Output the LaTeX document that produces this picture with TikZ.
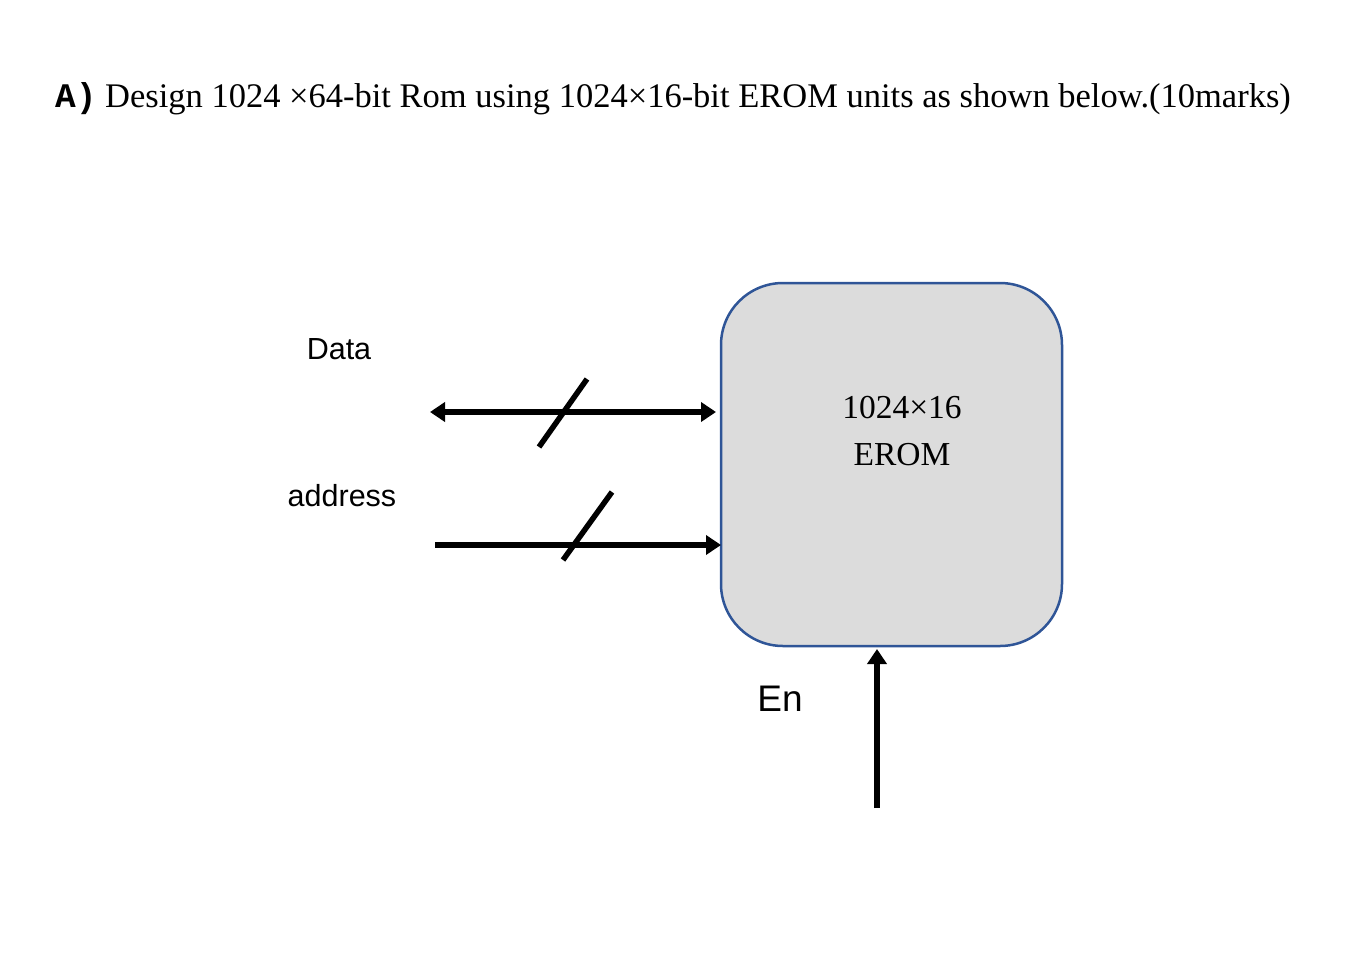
\documentclass[tikz,border=0pt]{standalone}
\usepackage{fontspec}
\setmainfont{Liberation Serif}
\newfontfamily\sansf{Liberation Sans}
\newfontfamily\monof{Liberation Mono}
\usetikzlibrary{arrows.meta}
\definecolor{boxfill}{HTML}{DCDCDC}
\definecolor{boxline}{HTML}{2F5597}
\begin{document}
\begin{tikzpicture}[x=1pt,y=-1pt,
  wire/.style={line width=5.5pt,-{Triangle[length=15pt,width=19pt]}},
  slash/.style={line width=5.5pt},
  lbl/.style={font=\sansf\fontsize{30.5}{34}\selectfont}]
\useasboundingbox (0,0) rectangle (1358,956);
\node[anchor=west,inner sep=0] (title) at (55,99) {\fontsize{34.5}{40}\selectfont{\monof\bfseries A)} Design 1024 ×64-bit Rom using 1024×16-bit EROM units as shown below.(10marks)};
\node[draw=boxline,line width=2.5pt,fill=boxfill,rounded corners=62pt,minimum width=341pt,minimum height=363pt] (rom) at (891.5,464.5) {};
\node[align=center,font=\fontsize{33.5}{47}\selectfont] (romt) at (902,431) {1024×16\\EROM};
\node[lbl] (data) at (339,349) {Data};
\node[lbl] (addr) at (342,496) {address};
\node[font=\sansf\fontsize{37}{40}\selectfont] (en) at (780,699) {En};
\coordinate (d0) at (430,412); \coordinate (d1) at (716,412);
\draw[line width=5.5pt,{Triangle[length=15pt,width=19pt]}-{Triangle[length=15pt,width=19pt]}] (d0) -- (d1);
\draw[slash] (539,447) -- (587,379);
\coordinate (a0) at (435,545); \coordinate (a1) at (721,545);
\draw[wire] (a0) -- (a1);
\draw[slash] (563,560) -- (612,492);
\coordinate (e0) at (877,808); \coordinate (e1) at (877,649);
\draw[wire] (e0) -- (e1);
\end{tikzpicture}
\end{document}
